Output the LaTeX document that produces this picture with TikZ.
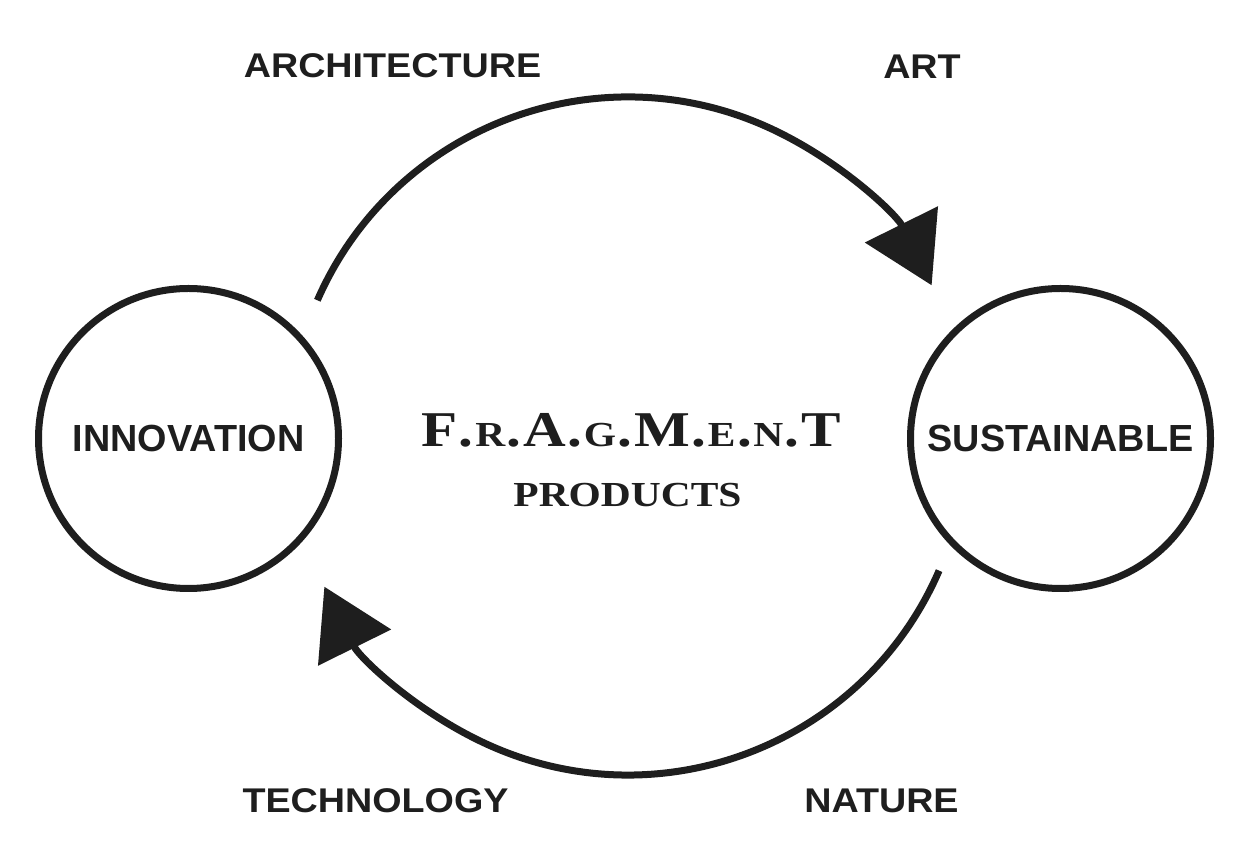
\documentclass[tikz,border=0pt]{standalone}
\usepackage{fontspec}
\setmainfont{Liberation Sans}
\newfontfamily\wideface[FakeStretch=1.1]{Liberation Sans}
\newfontfamily\titleface[FakeStretch=1.18]{Liberation Serif}
\usetikzlibrary{calc,arrows.meta}
\definecolor{ink}{HTML}{1E1E1E}
\newcommand{\lowcap}[1]{{\fontsize{20}{20}\selectfont #1}}
\newcommand{\dotgap}{\kern0.9pt.\kern0.9pt}

\begin{document}
\begin{tikzpicture}[
  hubcircle/.style={circle, draw=ink, line width=0.14cm, minimum size=6cm,
    inner sep=0pt, text=ink, font=\fontsize{21.5}{24}\selectfont\bfseries},
  side/.style={text=ink, font=\wideface\fontsize{19.5}{22}\selectfont\bfseries,
    anchor=base, inner sep=0pt},
  brand/.style={text=ink, font=\titleface\fontsize{28.5}{30}\selectfont\bfseries,
    anchor=base, inner sep=0pt},
  flow/.style={draw=ink, line width=0.14cm, -{Triangle[length=13.6mm,width=16mm]}}
]
\useasboundingbox (0,0) rectangle (25,17.32);

\node[hubcircle] (innov) at (3.77,8.55) {INNOVATION};
\node[hubcircle] (sust) at (21.21,8.55) {SUSTAINABLE};

\coordinate (hub) at (12.56,8.6);
\coordinate (artstart) at ($(hub)+(156.4:6.78)$);
\coordinate (natstart) at ($(hub)+(-23.4:6.78)$);

\draw[flow] (artstart) arc[start angle=156.4, end angle=26.4, radius=6.78];
\draw[flow] (natstart) arc[start angle=-23.4, end angle=-153.6, radius=6.78];

\node[side] (arch) at (7.85,15.76) {ARCHITECTURE};
\node[side] (art) at (18.44,15.74) {ART};
\node[side] (tech) at (7.51,1.06) {TECHNOLOGY};
\node[side] (nature) at (17.63,1.06) {NATURE};

% title
\node[brand] (fragment) at (12.62,8.38)
    {F\dotgap\lowcap{R}\dotgap A\dotgap\lowcap{G}\dotgap M\dotgap\lowcap{E}\dotgap\lowcap{N}\dotgap T};
\node[brand] (products) at (12.55,7.18) {\lowcap{PRODUCTS}};

\end{tikzpicture}
\end{document}
